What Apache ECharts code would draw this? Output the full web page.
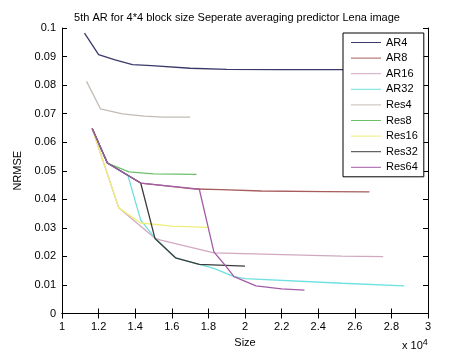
<!DOCTYPE html>
<html><head><meta charset="utf-8">
<script src="https://cdn.jsdelivr.net/npm/echarts@6/dist/echarts.min.js"></script>
<style>html,body{margin:0;padding:0;background:#fff}#c{width:474px;height:354px}</style>
</head><body><div id="c"></div>
<script>
var seriesNames = ['AR4','AR8','AR16','AR32','Res4','Res8','Res16','Res32','Res64'];
var seriesColors = ['#3a3a6a','#a85c5c','#d2a8c0','#6fe0e0','#c4bcb4','#6cc06c','#eeee7a','#3c3c3c','#a45ca8'];
var AR4 = [[1.123,0.0982],[1.2,0.0907],[1.29,0.0888],[1.385,0.0872],[1.49,0.0868],[1.7,0.0859],[1.9,0.0855],[2.2,0.0854],[2.55,0.0854],[2.75,0.0853]];
var AR8 = [[1.165,0.0648],[1.248,0.0527],[1.43,0.0457],[1.73,0.0436],[1.87,0.0434],[2.09,0.0429],[2.44,0.0427],[2.68,0.0426]];
var AR16 = [[1.165,0.0648],[1.31,0.0370],[1.51,0.0263],[1.54,0.0257],[1.83,0.0212],[2.1,0.0208],[2.53,0.0201],[2.755,0.0199]];
var AR32 = [[1.165,0.0648],[1.248,0.0527],[1.36,0.0484],[1.43,0.0327],[1.51,0.0263],[1.62,0.0195],[1.83,0.0158],[1.94,0.0129],[2.0,0.0122],[2.53,0.0106],[2.87,0.0097]];
var Res4 = [[1.134,0.0813],[1.21,0.0717],[1.33,0.0699],[1.45,0.0691],[1.55,0.0688],[1.70,0.0688]];
var Res8 = [[1.165,0.0648],[1.248,0.0527],[1.366,0.0496],[1.5,0.0489],[1.735,0.0487]];
var Res16 = [[1.165,0.0648],[1.31,0.0370],[1.43,0.0317],[1.6,0.0306],[1.795,0.0302]];
var Res32 = [[1.165,0.0648],[1.248,0.0527],[1.43,0.0457],[1.508,0.0263],[1.62,0.0195],[1.75,0.0172],[2.0,0.0166]];
var Res64 = [[1.165,0.0648],[1.248,0.0527],[1.43,0.0457],[1.75,0.0436],[1.83,0.0216],[1.89,0.0170],[1.94,0.0129],[2.06,0.0097],[2.2,0.0086],[2.325,0.0082]];
var seriesData = [AR4,AR8,AR16,AR32,Res4,Res8,Res16,Res32,Res64];
var titleText = '5th AR for 4*4 block size Seperate averaging predictor Lena image';

var FONT = 'Liberation Sans, Arial, sans-serif';
var chart = echarts.init(document.getElementById('c'), null, {renderer:'canvas'});
var series = seriesNames.map(function(n,i){
  return {name:n,type:'line',data:seriesData[i],symbol:'none',showSymbol:false,
    lineStyle:{color:seriesColors[i],width:1.3},itemStyle:{color:seriesColors[i]},
    animation:false,z:2};
});
var axisCommon = {
  axisLine:{show:true,lineStyle:{color:'#000',width:1}},
  axisTick:{show:true,inside:true,length:5,lineStyle:{color:'#000'}},
  splitLine:{show:false}
};
chart.setOption({
  animation:false,
  backgroundColor:'#fff',
  title:{text:titleText,left:'center',top:7,textStyle:{fontFamily:FONT,fontSize:11,fontWeight:'normal',color:'#000'}},
  grid:{left:62,right:46,top:28,bottom:40.5,containLabel:false},
  legend:{orient:'vertical',left:343,top:33,padding:[4,6,4,8],itemWidth:30,itemHeight:11,itemGap:4.6,
    backgroundColor:'#fff',borderColor:'#000',borderWidth:1,
    textStyle:{fontFamily:FONT,fontSize:11,color:'#000',lineHeight:11},
    data:seriesNames.map(function(n){return {name:n,icon:'path://M0,5L30,5L30,6L0,6Z'};})},
  xAxis:[
    Object.assign({type:'value',min:1,max:3,interval:0.2,position:'bottom',
      name:'Size',nameLocation:'middle',nameGap:24,nameTextStyle:{fontFamily:FONT,fontSize:11,color:'#000'},
      axisLabel:{fontFamily:FONT,fontSize:11,color:'#000',margin:8}},axisCommon),
    Object.assign({type:'value',min:1,max:3,interval:0.2,position:'top',axisLabel:{show:false}},axisCommon)
  ],
  yAxis:[
    Object.assign({type:'value',min:0,max:0.1,interval:0.01,position:'left',
      name:'NRMSE',nameLocation:'middle',nameGap:33,nameTextStyle:{fontFamily:FONT,fontSize:11,color:'#000'},
      axisLabel:{fontFamily:FONT,fontSize:11,color:'#000',margin:6}},axisCommon),
    Object.assign({type:'value',min:0,max:0.1,interval:0.01,position:'right',axisLabel:{show:false}},axisCommon)
  ],
  graphic:[{type:'text',left:402,top:338,style:{text:'x 10{s|4}',rich:{s:{fontSize:9,fontFamily:FONT,verticalAlign:'top',padding:[0,0,6,0]}},font:'11px '+FONT,fill:'#000'}}],
  series:series
});
</script></body></html>
